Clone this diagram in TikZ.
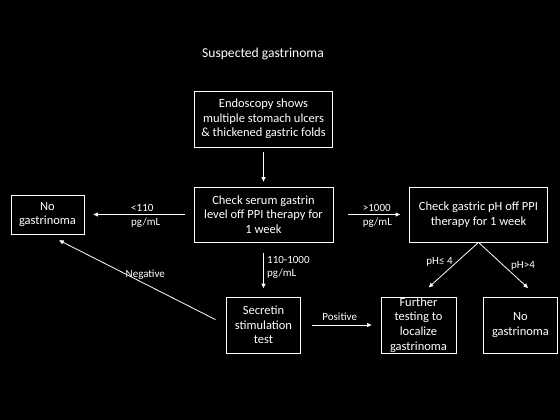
\documentclass[tikz,border=0pt]{standalone}
\usepackage{fontspec}
\setmainfont{Carlito}
\usetikzlibrary{arrows.meta}
\begin{document}
\begin{tikzpicture}[x=1pt,y=-1pt,
  box/.style={draw=white,line width=0.8pt,text=white,align=center,inner sep=0pt,
    font=\fontsize{12.5}{14.7}\selectfont},
  lbl/.style={text=white,inner sep=0pt,font=\fontsize{11}{13.4}\selectfont},
  conn/.style={draw=white,line width=0.8pt,-{Triangle[length=4.5pt,width=4pt]}}]
\fill[black] (0,0) rectangle (560,420);
\useasboundingbox (0,0) rectangle (560,420);
\node[text=white,inner sep=0pt,font=\fontsize{13.6}{15}\selectfont] (title) at (263,54) {Suspected gastrinoma};
\node[box,minimum width=138pt,minimum height=56pt] (endo) at (263.5,119) {Endoscopy shows\\multiple stomach ulcers\\\& thickened gastric folds};
\node[box,minimum width=139pt,minimum height=55pt] (serum) at (263.5,214.5) {Check serum gastrin\\level off PPI therapy for\\1 week};
\node[box,minimum width=73pt,minimum height=39pt] (nogl) at (47.5,214.5) {No\\gastrinoma};
\node[box,minimum width=138pt,minimum height=55pt] (ph) at (478.5,214.5) {Check gastric pH off PPI\\therapy for 1 week};
\node[box,minimum width=74pt,minimum height=56pt] (sec) at (263.5,325) {Secretin\\stimulation\\test};
\node[box,minimum width=75pt,minimum height=56pt] (fur) at (418.5,325) {Further\\testing to\\localize\\gastrinoma};
\node[box,minimum width=74pt,minimum height=56pt] (nogr) at (520.5,325) {No\\gastrinoma};
\coordinate (phr) at (528,288);
\draw[conn,shorten <=5pt,shorten >=5pt] (endo.south) -- (serum.north);
\draw[conn,shorten <=9pt,shorten >=9pt] (serum.west) -- (nogl.east);
\draw[conn,shorten <=15pt,shorten >=9pt] (serum.east) -- (ph.west);
\draw[conn,shorten <=10.5pt,shorten >=8.5pt] (serum.south) -- (sec.north);
\draw[conn,shorten <=11.5pt,shorten >=9pt] (sec.east) -- (fur.west);
\draw[conn,shorten <=12pt,shorten >=13pt] (sec.west) -- (nogl.south);
\draw[conn,shorten <=1pt,shorten >=13.8pt] (ph.south) -- (fur.north);
\draw[conn,shorten <=1pt] (ph.south) -- (phr);
\node[lbl,anchor=west,align=left] (l110) at (131,216) {<110\\pg/mL};
\node[lbl,anchor=west,align=left] (l1000) at (362.7,216) {>1000\\pg/mL};
\node[lbl,anchor=west,align=left] (lmid) at (267,267.5) {110-1000\\pg/mL};
\node[lbl] (lneg) at (145.3,275) {Negative};
\node[lbl] (lpos) at (339.7,316.7) {Positive};
\node[lbl] (lphl) at (439.5,262.3) {pH≤ 4};
\node[lbl] (lphg) at (523,266) {pH>4};
\end{tikzpicture}
\end{document}
